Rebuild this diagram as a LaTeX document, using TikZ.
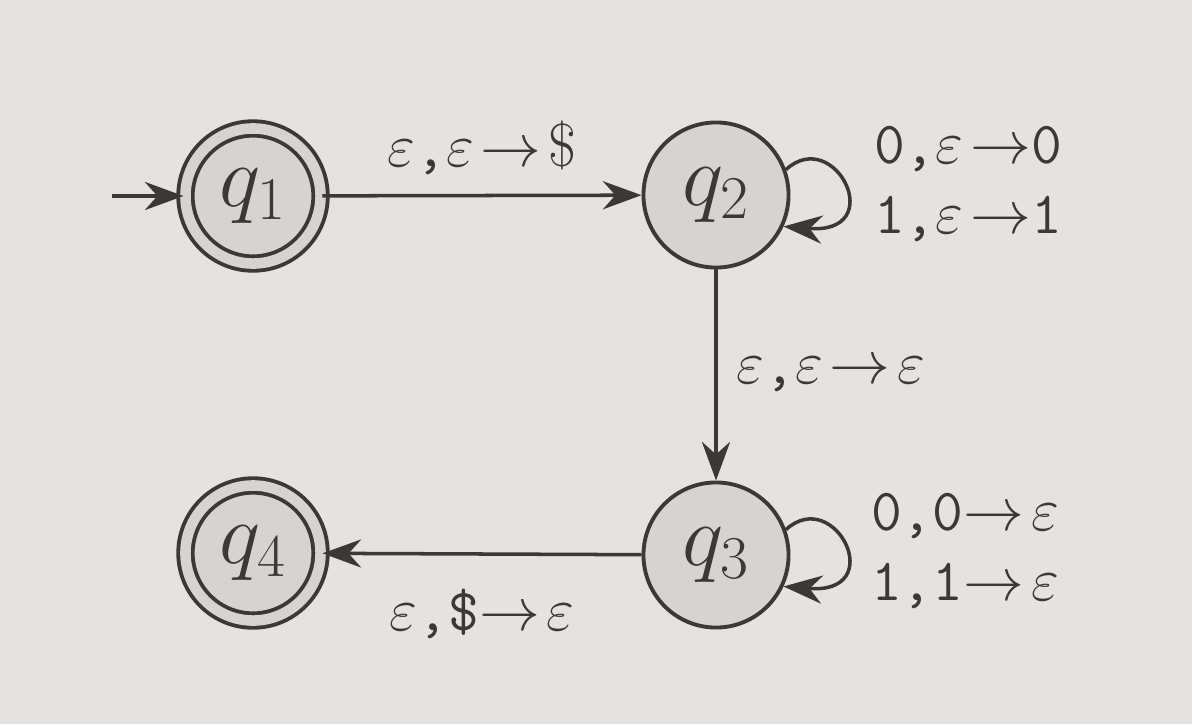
\documentclass[tikz,border=0pt]{standalone}
\usetikzlibrary{arrows.meta}
\definecolor{bg}{RGB}{228,227,225}
\definecolor{ink}{RGB}{62,56,52}
\definecolor{st}{RGB}{214,212,210}
\begin{document}
\begin{tikzpicture}[x=0.01cm,y=-0.01cm,
  state/.style={circle,draw=ink,line width=1.1pt,fill=st,minimum size=1.45cm,inner sep=0pt,text=ink,font=\fontsize{26}{28}\selectfont},
  acc/.style={state,double=st,double distance=3pt,minimum size=1.2cm},
  lab/.style={text=ink,font=\fontsize{17}{20}\selectfont\ttfamily,align=left},
  edge/.style={draw=ink,line width=1pt,-{Stealth[length=11pt,width=8pt]}}]
\fill[bg] (0,0) rectangle (1192,724);
\useasboundingbox (0,0) rectangle (1192,724);
\node[acc,minimum size=1.35cm] (q1) at (253,196) {$q_1$};
\node[state] (q2) at (716,195) {$q_2$};
\node[state] (q3) at (716,555) {$q_3$};
\node[acc,minimum size=1.35cm] (q4) at (253,553) {$q_4$};
\coordinate (s) at (112,196);
\draw[edge] (s) -- (q1);
\draw[edge] (q1) -- node[lab,above=2pt] {$\varepsilon$,$\varepsilon\!\to\!\$$} (q2);
\draw[edge] (q2) -- node[lab,right=2pt,pos=0.5] {$\varepsilon$,$\varepsilon\!\to\!\varepsilon$} (q3);
\draw[edge] (q3) -- node[lab,below=6pt] {$\varepsilon$,\$$\to\!\varepsilon$} (q4);
\draw[edge] (q2.20) .. controls (835,125) and (890,235) .. (q2.-25);
\draw[edge] (q3.20) .. controls (835,485) and (890,595) .. (q3.-25);
\node[lab] (l2) at (968,184) {0,$\varepsilon\!\to$0\\1,$\varepsilon\!\to$1};
\node[lab] (l3) at (965,551) {0,0$\to\!\varepsilon$\\1,1$\to\!\varepsilon$};
\end{tikzpicture}
\end{document}
